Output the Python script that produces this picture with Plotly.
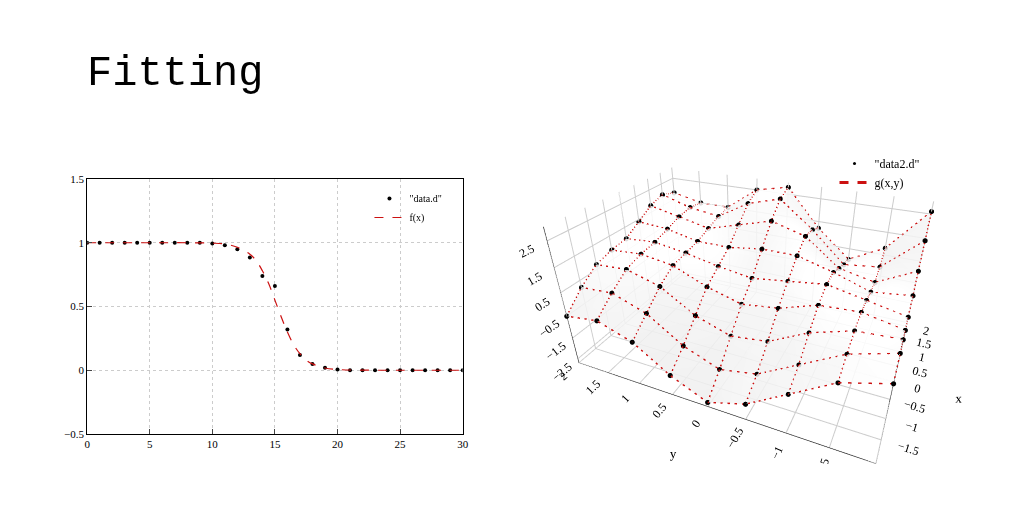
import plotly.graph_objects as go

# left panel: data.d and fitted f(x)
data_x = list(range(31))
data_y = [1, 1, 1, 1, 1, 1, 1, 1, 1, 1, 0.995, 0.98, 0.95, 0.885, 0.74, 0.66, 0.32, 0.12,
          0.05, 0.02, 0.005, 0, 0, 0, 0, 0, 0, 0, 0, 0, 0]
fit_x = [0, 2, 4, 6, 8, 10, 11, 12, 13, 13.5, 14, 14.5, 15, 15.5, 16, 16.5, 17, 17.5, 18, 19,
         20, 22, 25, 30]
fit_y = [1, 1, 1, 1, 1, 0.997, 0.99, 0.965, 0.91, 0.86, 0.78, 0.68, 0.55, 0.42, 0.3, 0.2,
         0.13, 0.08, 0.05, 0.018, 0.006, 0.001, 0, 0]

# right panel: data2.d on a grid, g(x,y); rows = x, columns = y
grid_x = [-2, -1.5, -1, -0.5, 0, 0.5, 1, 1.5, 2]
grid_y = [-2, -1.5, -1, -0.5, 0, 0.5, 1, 1.5, 2]
grid_z = [
    [0.5, 0.0, -1.0, -2.0, -2.5, -1.8, -0.8, -0.3, -0.5],
    [0.8, 0.3, -0.6, -1.5, -1.8, -1.2, -0.2, 0.3, 0.2],
    [0.6, 0.5, 0.0, -0.8, -1.0, -0.5, 0.4, 0.8, 0.7],
    [0.3, 0.6, 0.5, 0.0, -0.2, 0.2, 0.8, 1.0, 0.9],
    [0.2, 0.5, 0.8, 0.6, 0.4, 0.6, 0.9, 1.1, 1.0],
    [0.5, 0.3, 0.8, 1.2, 1.2, 1.0, 1.0, 1.3, 1.4],
    [1.0, 0.2, 0.5, 1.6, 2.0, 1.6, 1.2, 1.5, 1.8],
    [1.8, 0.4, 0.2, 1.5, 2.6, 2.2, 1.4, 1.6, 2.0],
    [2.6, 0.8, 0.0, 1.2, 2.8, 2.5, 1.5, 1.5, 1.8],
]
z_ticks = [-2.5, -1.5, -0.5, 0.5, 1.5, 2.5]

serif = "Liberation Serif"
red = "#cc1111"

fig = go.Figure()

fig.add_trace(go.Scatter(x=data_x, y=data_y, mode="markers", name='"data.d"',
                         marker=dict(color="black", size=4), legend="legend"))
fig.add_trace(go.Scatter(x=fit_x, y=fit_y, mode="lines", name="f(x)", line_shape="spline",
                         line=dict(color=red, width=1.2, dash="dash"), legend="legend"))

# points first so they come first in the second legend
pts_x, pts_y, pts_z = [], [], []
for i, xv in enumerate(grid_x):
    for j, yv in enumerate(grid_y):
        pts_x.append(xv)
        pts_y.append(yv)
        pts_z.append(grid_z[i][j])
fig.add_trace(go.Scatter3d(x=pts_x, y=pts_y, z=pts_z, mode="markers", name='"data2.d"',
                           marker=dict(color="black", size=3), legend="legend2"))

# surface (plotly wants z[y][x], so transpose)
zt = [[grid_z[i][j] for i in range(len(grid_x))] for j in range(len(grid_y))]
fig.add_trace(go.Surface(x=grid_x, y=grid_y, z=zt, showscale=False, opacity=0.85,
                         colorscale=[[0, "#ececec"], [1, "#f6f6f6"]], showlegend=False,
                         hoverinfo="skip", lighting=dict(ambient=0.95, diffuse=0.2)))
# red mesh lines of g(x,y)
for i, xv in enumerate(grid_x):
    fig.add_trace(go.Scatter3d(x=[xv] * len(grid_y), y=grid_y, z=grid_z[i], mode="lines",
                               line=dict(color=red, width=3, dash="dash"),
                               name="g(x,y)", showlegend=(i == 0), legend="legend2"))
for j, yv in enumerate(grid_y):
    fig.add_trace(go.Scatter3d(x=grid_x, y=[yv] * len(grid_x), z=[r[j] for r in grid_z],
                               mode="lines", line=dict(color=red, width=3, dash="dash"),
                               name="g(x,y)", showlegend=False, legend="legend2"))

grid_c = "#cccccc"
ax3 = dict(backgroundcolor="white", gridcolor=grid_c, showbackground=False,
           linecolor="black", showline=True, tickfont=dict(family=serif, size=12),
           title_font=dict(family=serif, size=13))
fig.update_layout(
    width=1024, height=512, paper_bgcolor="white", plot_bgcolor="white",
    margin=dict(l=0, r=0, t=0, b=0),
    font=dict(family=serif, size=11, color="black"),
    xaxis=dict(domain=[0.075, 0.445], range=[0, 30], dtick=5, showgrid=True, gridcolor=grid_c,
               griddash="dot", showline=True, linecolor="black", mirror=True, ticks="inside",
               zeroline=False, tickfont=dict(color="black")),
    yaxis=dict(domain=[0.16, 0.67], range=[-0.5, 1.5], dtick=0.5, showgrid=True,
               gridcolor=grid_c, griddash="dot", showline=True, linecolor="black",
               mirror=True, ticks="inside", zeroline=False, tickfont=dict(color="black")),
    legend=dict(x=0.43, y=0.66, xanchor="right", yanchor="top", bgcolor="rgba(0,0,0,0)",
                font=dict(size=10)),
    legend2=dict(x=0.9, y=0.73, xanchor="right", yanchor="top", bgcolor="rgba(0,0,0,0)",
                 font=dict(size=12)),
    scene=dict(
        domain=dict(x=[0.46, 1.0], y=[0.1, 0.82]),
        xaxis=dict(ax3, title="x", range=[-2, 2], dtick=0.5),
        yaxis=dict(ax3, title="y", range=[-2, 2], dtick=0.5),
        zaxis=dict(ax3, title="", range=[-2.7, 3], tickvals=z_ticks),
        aspectmode="manual", aspectratio=dict(x=1.0, y=1.5, z=0.75),
        camera=dict(eye=dict(x=-1.72, y=-0.75, z=1.1)),
    ),
    annotations=[dict(text="Fitting", x=0.073, y=0.88, xref="paper", yref="paper",
                      xanchor="left", yanchor="middle", showarrow=False,
                      font=dict(family="Liberation Mono", size=42, color="black"))],
)

fig.write_html("out.html")
